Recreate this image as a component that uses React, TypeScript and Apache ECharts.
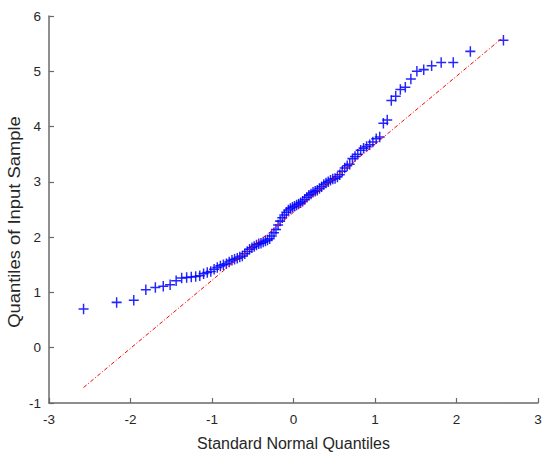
import React, { useEffect, useRef } from "react";
import * as echarts from "echarts";

// Standard normal quantiles for n = 100 (theoretical x positions)
const theoreticalQuantiles: number[] = [
  -2.576, -2.170, -1.960, -1.812, -1.695, -1.598, -1.514, -1.440, -1.372, -1.311,
  -1.254, -1.200, -1.150, -1.103, -1.058, -1.015, -0.974, -0.935, -0.897, -0.860,
  -0.824, -0.789, -0.755, -0.723, -0.690, -0.659, -0.628, -0.598, -0.568, -0.539,
  -0.510, -0.482, -0.454, -0.426, -0.399, -0.372, -0.345, -0.319, -0.292, -0.266,
  -0.240, -0.215, -0.189, -0.164, -0.138, -0.113, -0.088, -0.063, -0.038, -0.0125,
  0.0125, 0.038, 0.063, 0.088, 0.113, 0.138, 0.164, 0.189, 0.215, 0.240,
  0.266, 0.292, 0.319, 0.345, 0.372, 0.399, 0.426, 0.454, 0.482, 0.510,
  0.539, 0.568, 0.598, 0.628, 0.659, 0.690, 0.723, 0.755, 0.789, 0.824,
  0.860, 0.897, 0.935, 0.974, 1.015, 1.058, 1.103, 1.150, 1.200, 1.254,
  1.311, 1.372, 1.440, 1.514, 1.598, 1.695, 1.812, 1.960, 2.170, 2.576,
];

// Sorted sample values (y positions)
const sampleQuantiles: number[] = [
  0.70, 0.82, 0.86, 1.05, 1.09, 1.11, 1.14, 1.21, 1.26, 1.27,
  1.28, 1.29, 1.30, 1.34, 1.36, 1.38, 1.42, 1.45, 1.48, 1.50,
  1.52, 1.55, 1.58, 1.60, 1.62, 1.64, 1.66, 1.70, 1.74, 1.78,
  1.81, 1.83, 1.86, 1.88, 1.89, 1.91, 1.93, 1.95, 1.97, 2.02,
  2.08, 2.14, 2.22, 2.29, 2.35, 2.40, 2.45, 2.49, 2.52, 2.54,
  2.56, 2.58, 2.60, 2.62, 2.65, 2.68, 2.72, 2.76, 2.78, 2.81,
  2.83, 2.85, 2.88, 2.91, 2.95, 2.98, 3.00, 3.03, 3.05, 3.06,
  3.09, 3.13, 3.19, 3.25, 3.29, 3.32, 3.42, 3.46, 3.50, 3.57,
  3.61, 3.64, 3.67, 3.72, 3.78, 3.81, 4.06, 4.12, 4.47, 4.55,
  4.67, 4.71, 4.86, 5.00, 5.03, 5.10, 5.16, 5.16, 5.36, 5.56,
];

// Reference line endpoints (through quartiles, extended to data range)
const refLineX: number[] = [-2.576, 2.576];
const refLineY: number[] = [-0.72, 5.62];

const xTicks: number[] = [-3, -2, -1, 0, 1, 2, 3];
const yTicks: number[] = [-1, 0, 1, 2, 3, 4, 5, 6];

const xLabel = "Standard Normal Quantiles";
const yLabel = "Quantiles of Input Sample";

export default function App() {
  const ref = useRef<HTMLDivElement>(null);

  useEffect(() => {
    if (!ref.current) return;
    const chart = echarts.init(ref.current, undefined, { renderer: "svg" });
    const font = "'Liberation Sans', Arial, Helvetica, sans-serif";
    const axisColor = "#6a6a6a";
    const textColor = "#262626";

    const points = theoreticalQuantiles.map((x, i) => [x, sampleQuantiles[i]]);
    const line = refLineX.map((x, i) => [x, refLineY[i]]);

    chart.setOption({
      animation: false,
      backgroundColor: "#ffffff",
      grid: { left: 49, top: 16, width: 489, height: 387, containLabel: false },
      xAxis: {
        type: "value",
        min: xTicks[0],
        max: xTicks[xTicks.length - 1],
        interval: 1,
        name: xLabel,
        nameLocation: "middle",
        nameGap: 32,
        nameTextStyle: { fontFamily: font, fontSize: 16, color: textColor },
        axisLine: { show: true, onZero: false, lineStyle: { color: axisColor, width: 1.5 } },
        axisTick: { show: true, inside: true, length: 5, lineStyle: { color: axisColor, width: 1.2 } },
        axisLabel: { fontFamily: font, fontSize: 13.5, color: textColor, margin: 9 },
        splitLine: { show: false },
      },
      yAxis: {
        type: "value",
        min: yTicks[0],
        max: yTicks[yTicks.length - 1],
        interval: 1,
        axisLine: { show: true, onZero: false, lineStyle: { color: axisColor, width: 1.5 } },
        axisTick: { show: true, inside: true, length: 5, lineStyle: { color: axisColor, width: 1.2 } },
        axisLabel: { fontFamily: font, fontSize: 13.5, color: textColor, margin: 8 },
        splitLine: { show: false },
      },
      graphic: [
        {
          type: "text",
          x: 14,
          y: 222,
          rotation: Math.PI / 2,
          scaleX: 1.15,
          style: {
            text: yLabel,
            font: `16px ${font}`,
            fill: textColor,
            textAlign: "center",
            textVerticalAlign: "middle",
          },
        },
      ],
      series: [
        {
          type: "scatter",
          data: points,
          symbol: "path://M5,0L5,10M0,5L10,5",
          symbolSize: [10, 10.5],
          itemStyle: { color: "transparent", borderColor: "#0000ff", borderWidth: 1.5, opacity: 0.85 },
          z: 2,
        },
        {
          type: "line",
          data: line,
          symbol: "none",
          lineStyle: { color: "#ff0000", width: 1, type: [4, 2, 1, 2] },
          z: 3,
        },
      ],
    });
    return () => chart.dispose();
  }, []);

  return (
    <div
      ref={ref}
      style={{ position: "absolute", left: 0, top: 0, width: 550, height: 458, background: "#fff" }}
    />
  );
}
